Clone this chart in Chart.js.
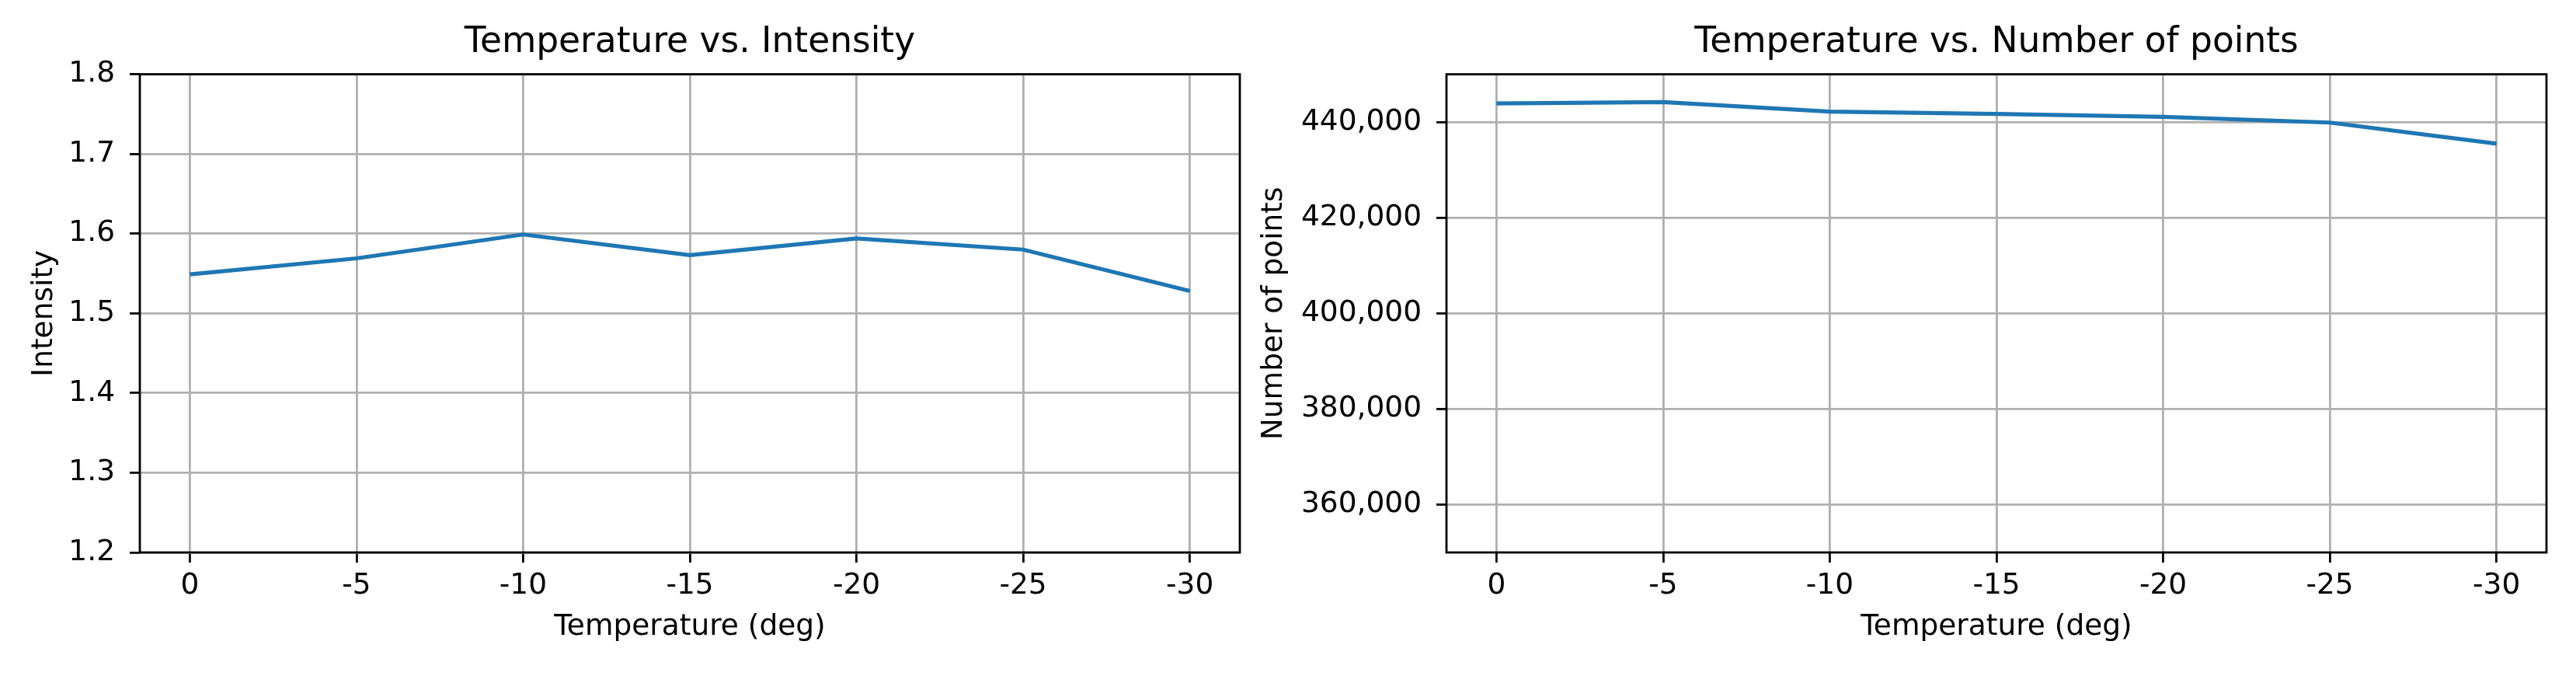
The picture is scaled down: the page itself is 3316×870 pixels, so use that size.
<!DOCTYPE html>
<html><head><meta charset="utf-8">
<script src="https://cdn.jsdelivr.net/npm/chart.js@4.4.1/dist/chart.umd.min.js"></script>
<style>
html,body{margin:0;padding:0;background:#fff;}
#wrap{position:relative;width:3316px;height:870px;overflow:hidden;background:#fff;}
canvas{position:absolute;top:0;}
#c1{left:0;}
#c2{left:1600px;}
</style></head><body>
<div id="wrap"><canvas id="c2" width="1716" height="870"></canvas><canvas id="c1" width="1650" height="870"></canvas></div>
<script>
// ---- data ----
const temperatures = [0, -5, -10, -15, -20, -25, -30];
const intensity = [1.549, 1.569, 1.599, 1.573, 1.594, 1.580, 1.528];
const numPoints = [443900, 444200, 442200, 441700, 441100, 439900, 435500];
const intensityTicks = [1.2, 1.3, 1.4, 1.5, 1.6, 1.7, 1.8];
const pointsTicks = [360000, 380000, 400000, 420000, 440000];
const xRange = [-31.5, 1.5];
const intensityRange = [1.2, 1.8];
const pointsRange = [350000, 450000];

const FONT = 'DejaVu Sans';
const frame = {
  id: 'frame',
  afterLayout(chart) {
    // center the title over the plot area, as matplotlib does
    const t = chart.titleBlock, a = chart.chartArea;
    if (t && a) { t.left = a.left; t.right = a.right; t.width = a.right - a.left; }
  },
  afterDraw(chart) {
    const {ctx, chartArea: a} = chart;
    ctx.save();
    ctx.strokeStyle = '#000';
    ctx.lineWidth = 2.8;
    ctx.strokeRect(a.left, a.top, a.right - a.left, a.bottom - a.top);
    ctx.restore();
  }
};

function gridOpts() {
  return {color: '#b0b0b0', lineWidth: 2.8, tickColor: '#000', tickWidth: 2.8, tickLength: 13};
}

function makeChart(id, titleText, yLabel, values, yTicks, yRange, yFmt, yAxisWidth, yTitlePad, padRight) {
  return new Chart(document.getElementById(id), {
    type: 'line',
    data: {
      datasets: [{
        data: temperatures.map((t, i) => ({x: t, y: values[i]})),
        borderColor: '#1f77b4',
        borderWidth: 5.2,
        pointRadius: 0,
        tension: 0,
        fill: false
      }]
    },
    plugins: [frame],
    options: {
      responsive: false,
      animation: false,
      devicePixelRatio: 1,
      layout: {padding: {left: 0, right: padRight, top: 0, bottom: 0}},
      plugins: {
        legend: {display: false},
        tooltip: {enabled: false},
        title: {
          display: true, text: titleText, color: '#000',
          font: {family: FONT, size: 45.5, weight: 'normal'},
          padding: {top: 28, bottom: 13}
        }
      },
      scales: {
        x: {
          type: 'linear', reverse: true, min: xRange[0], max: xRange[1],
          afterBuildTicks: s => { s.ticks = temperatures.map(v => ({value: v})); },
          afterFit: s => { s.height = 159; },
          grid: gridOpts(),
          border: {display: false},
          ticks: {color: '#000', font: {family: FONT, size: 37.5}, padding: 8, maxRotation: 0, autoSkip: false,
                  callback: v => String(v)},
          title: {display: true, text: 'Temperature (deg)', color: '#000',
                  font: {family: FONT, size: 37.5}, padding: {top: 0, bottom: 40}}
        },
        y: {
          type: 'linear', min: yRange[0], max: yRange[1],
          afterBuildTicks: s => { s.ticks = yTicks.map(v => ({value: v})); },
          afterFit: s => { s.width = yAxisWidth; },
          grid: gridOpts(),
          border: {display: false},
          ticks: {color: '#000', font: {family: FONT, size: 37.5}, padding: 19, callback: yFmt},
          title: {display: true, text: yLabel, color: '#000',
                  font: {family: FONT, size: 37.5}, padding: {top: yTitlePad, bottom: yTitlePad}}
        }
      }
    }
  });
}

makeChart('c1', 'Temperature vs. Intensity', 'Intensity', intensity, intensityTicks, intensityRange,
  v => Number(v).toFixed(1), 180, 35, 54);
makeChart('c2', 'Temperature vs. Number of points', 'Number of points', numPoints, pointsTicks, pointsRange,
  v => Number(v).toLocaleString('en-US'), 262, 18, 38);
</script>
</body></html>
